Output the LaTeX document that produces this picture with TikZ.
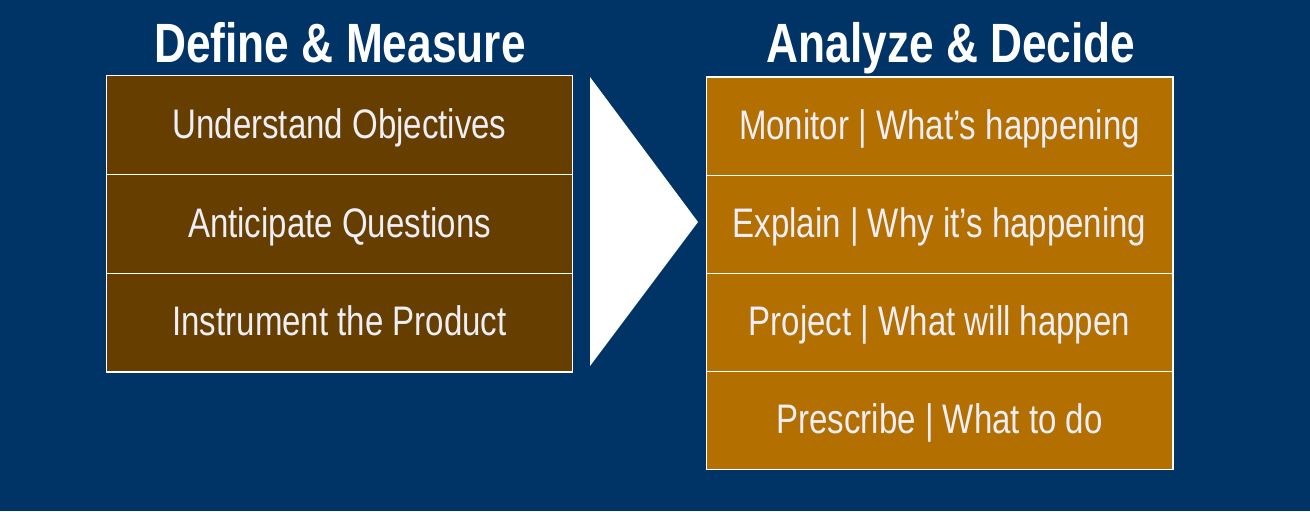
\documentclass[tikz,border=0pt]{standalone}
\usepackage{fontspec}
\setmainfont{Liberation Sans}[FakeStretch=0.80]
\usetikzlibrary{positioning}
\definecolor{bgblue}{RGB}{0,51,102}
\definecolor{darkbrown}{RGB}{102,63,0}
\definecolor{ochre}{RGB}{179,111,0}
\definecolor{paletext}{RGB}{238,238,246}

\begin{document}
\begin{tikzpicture}[x=0.02cm, y=-0.02cm,
  header/.style={text=white, font=\fontsize{31.5}{36}\selectfont\bfseries, inner sep=0pt, anchor=base},
  leftbox/.style={draw=white, line width=0.6pt, fill=darkbrown, minimum width=9.34cm, minimum height=1.974cm,
    text=paletext, font=\fontsize{23.5}{28}\selectfont, inner sep=0pt, outer sep=0pt, text depth=0.4ex},
  rightbox/.style={leftbox, fill=ochre, minimum height=1.965cm}]

% Sfondo e cornice
\useasboundingbox (0,0) rectangle (1310,511);
\fill[bgblue] (0,0) rectangle (1310,511);

\node[header] (hdefine)  at (340,62) {Define \& Measure};
\node[header] (hanalyze) at (951,62) {Analyze \& Decide};

\node[leftbox] (understand) at (339.5,125.3) {Understand Objectives};
\node[leftbox, below=0pt of understand] (anticipate) {Anticipate Questions};
\node[leftbox, below=0pt of anticipate] (instrument) {Instrument the Product};

\fill[white] (590,77) -- (698,222) -- (590,366) -- cycle;

\node[rightbox] (monitor) at (939.5,126.1) {Monitor | What’s happening};
\node[rightbox, below=0pt of monitor]  (explain)   {Explain | Why it’s happening};
\node[rightbox, below=0pt of explain]  (project)   {Project | What will happen};
\node[rightbox, below=0pt of project]  (prescribe) {Prescribe | What to do};

\end{tikzpicture}
\end{document}
